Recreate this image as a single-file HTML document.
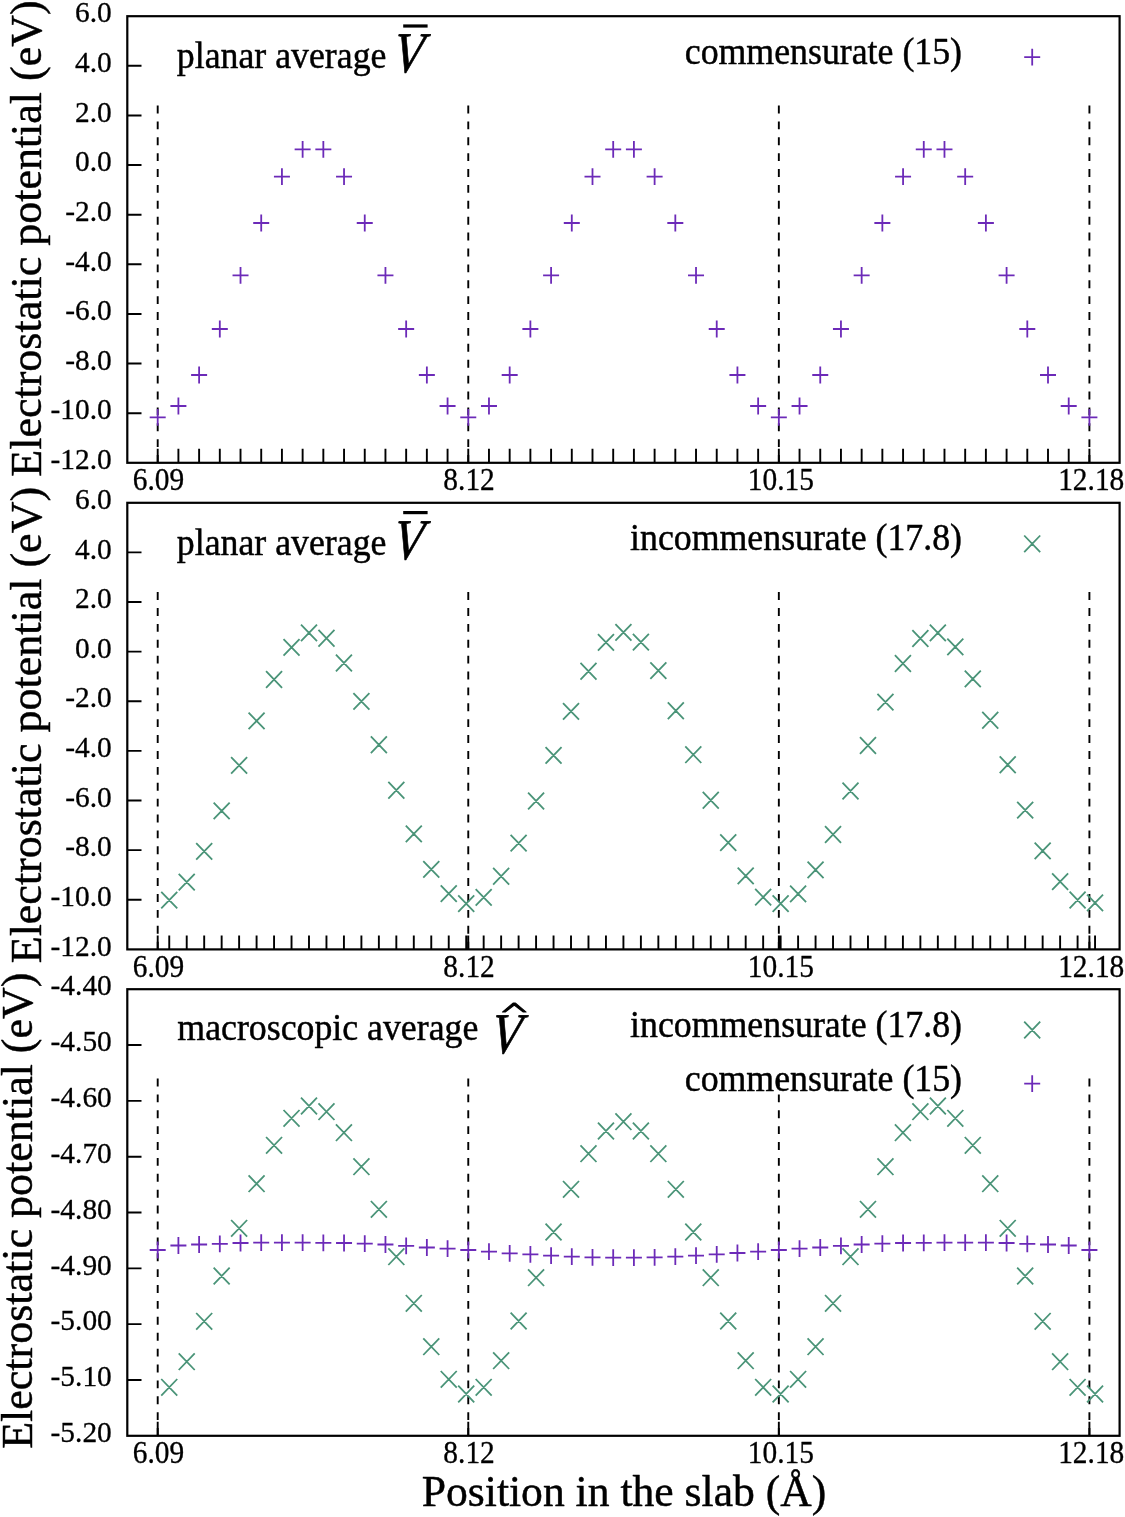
<!DOCTYPE html>
<html lang="en"><head><meta charset="utf-8"><title>Electrostatic potential</title>
<style>html,body{margin:0;padding:0;background:#fff}svg{display:block}text{fill:#000;font-family:'Liberation Serif','Times New Roman',Times,serif;stroke:#000;stroke-width:.45px;stroke-linejoin:round}</style></head><body>
<svg width="1125" height="1517" viewBox="0 0 1125 1517">
<rect width="1125" height="1517" fill="#fff"/>
<g>
<path d="M157.7 105.5V462.8M468.27 105.5V462.8M778.84 105.5V462.8M1089.41 105.5V462.8" stroke="#000" stroke-width="1.9" stroke-dasharray="7.9 7.99" fill="none"/>
<path d="M127.3 65.82h14.2M127.3 115.44h14.2M127.3 165.07h14.2M127.3 214.69h14.2M127.3 264.31h14.2M127.3 313.93h14.2M127.3 363.56h14.2M127.3 413.18h14.2M157.7 462.8v-14M178.4 462.8v-14M199.11 462.8v-14M219.81 462.8v-14M240.52 462.8v-14M261.22 462.8v-14M281.93 462.8v-14M302.63 462.8v-14M323.34 462.8v-14M344.04 462.8v-14M364.75 462.8v-14M385.45 462.8v-14M406.16 462.8v-14M426.86 462.8v-14M447.57 462.8v-14M468.27 462.8v-14M488.97 462.8v-14M509.68 462.8v-14M530.38 462.8v-14M551.09 462.8v-14M571.79 462.8v-14M592.5 462.8v-14M613.2 462.8v-14M633.91 462.8v-14M654.61 462.8v-14M675.32 462.8v-14M696.02 462.8v-14M716.73 462.8v-14M737.43 462.8v-14M758.14 462.8v-14M778.84 462.8v-14M799.54 462.8v-14M820.25 462.8v-14M840.95 462.8v-14M861.66 462.8v-14M882.36 462.8v-14M903.07 462.8v-14M923.77 462.8v-14M944.48 462.8v-14M965.18 462.8v-14M985.89 462.8v-14M1006.59 462.8v-14M1027.3 462.8v-14M1048 462.8v-14M1068.71 462.8v-14M1089.41 462.8v-14" stroke="#000" stroke-width="1.9" fill="none"/>
<rect x="127.3" y="16.2" width="992.3" height="446.6" fill="none" stroke="#000" stroke-width="2.2"/>
<text transform="translate(111.8 22.4) scale(1 1.035)" font-size="29.4" text-anchor="end" font-family="'Liberation Serif','Times New Roman',Times,serif" style="stroke-width:.3px">6.0</text>
<text transform="translate(111.8 72.02) scale(1 1.035)" font-size="29.4" text-anchor="end" font-family="'Liberation Serif','Times New Roman',Times,serif" style="stroke-width:.3px">4.0</text>
<text transform="translate(111.8 121.64) scale(1 1.035)" font-size="29.4" text-anchor="end" font-family="'Liberation Serif','Times New Roman',Times,serif" style="stroke-width:.3px">2.0</text>
<text transform="translate(111.8 171.27) scale(1 1.035)" font-size="29.4" text-anchor="end" font-family="'Liberation Serif','Times New Roman',Times,serif" style="stroke-width:.3px">0.0</text>
<text transform="translate(111.8 220.89) scale(1 1.035)" font-size="29.4" text-anchor="end" font-family="'Liberation Serif','Times New Roman',Times,serif" style="stroke-width:.3px">-2.0</text>
<text transform="translate(111.8 270.51) scale(1 1.035)" font-size="29.4" text-anchor="end" font-family="'Liberation Serif','Times New Roman',Times,serif" style="stroke-width:.3px">-4.0</text>
<text transform="translate(111.8 320.13) scale(1 1.035)" font-size="29.4" text-anchor="end" font-family="'Liberation Serif','Times New Roman',Times,serif" style="stroke-width:.3px">-6.0</text>
<text transform="translate(111.8 369.76) scale(1 1.035)" font-size="29.4" text-anchor="end" font-family="'Liberation Serif','Times New Roman',Times,serif" style="stroke-width:.3px">-8.0</text>
<text transform="translate(111.8 419.38) scale(1 1.035)" font-size="29.4" text-anchor="end" font-family="'Liberation Serif','Times New Roman',Times,serif" style="stroke-width:.3px">-10.0</text>
<text transform="translate(111.8 469) scale(1 1.035)" font-size="29.4" text-anchor="end" font-family="'Liberation Serif','Times New Roman',Times,serif" style="stroke-width:.3px">-12.0</text>
<text transform="translate(158.5 490) scale(1 1.06)" font-size="29.4" text-anchor="middle" font-family="'Liberation Serif','Times New Roman',Times,serif" style="stroke-width:.3px">6.09</text>
<text transform="translate(469.07 490) scale(1 1.06)" font-size="29.4" text-anchor="middle" font-family="'Liberation Serif','Times New Roman',Times,serif" style="stroke-width:.3px">8.12</text>
<text transform="translate(780.84 490) scale(1 1.06)" font-size="29.4" text-anchor="middle" font-family="'Liberation Serif','Times New Roman',Times,serif" style="stroke-width:.3px">10.15</text>
<text transform="translate(1091.21 490) scale(1 1.06)" font-size="29.4" text-anchor="middle" font-family="'Liberation Serif','Times New Roman',Times,serif" style="stroke-width:.3px">12.18</text>
<text transform="translate(41.2 238.5) rotate(-90) scale(1 0.995)" font-size="44.0" text-anchor="middle" font-family="'Liberation Serif','Times New Roman',Times,serif">Electrostatic potential (eV)</text>
<path d="M149.7 417.3h16M157.7 408.9v16.8M170.4 406h16M178.4 397.6v16.8M191.11 375h16M199.11 366.6v16.8M211.81 329h16M219.81 320.6v16.8M232.52 275.3h16M240.52 266.9v16.8M253.22 223h16M261.22 214.6v16.8M273.93 176.7h16M281.93 168.3v16.8M294.63 149.3h16M302.63 140.9v16.8M315.34 149.3h16M323.34 140.9v16.8M336.04 176.7h16M344.04 168.3v16.8M356.75 223h16M364.75 214.6v16.8M377.45 275.3h16M385.45 266.9v16.8M398.16 329h16M406.16 320.6v16.8M418.86 375h16M426.86 366.6v16.8M439.57 406h16M447.57 397.6v16.8M460.27 417.3h16M468.27 408.9v16.8M480.97 406h16M488.97 397.6v16.8M501.68 375h16M509.68 366.6v16.8M522.38 329h16M530.38 320.6v16.8M543.09 275.3h16M551.09 266.9v16.8M563.79 223h16M571.79 214.6v16.8M584.5 176.7h16M592.5 168.3v16.8M605.2 149.3h16M613.2 140.9v16.8M625.91 149.3h16M633.91 140.9v16.8M646.61 176.7h16M654.61 168.3v16.8M667.32 223h16M675.32 214.6v16.8M688.02 275.3h16M696.02 266.9v16.8M708.73 329h16M716.73 320.6v16.8M729.43 375h16M737.43 366.6v16.8M750.14 406h16M758.14 397.6v16.8M770.84 417.3h16M778.84 408.9v16.8M791.54 406h16M799.54 397.6v16.8M812.25 375h16M820.25 366.6v16.8M832.95 329h16M840.95 320.6v16.8M853.66 275.3h16M861.66 266.9v16.8M874.36 223h16M882.36 214.6v16.8M895.07 176.7h16M903.07 168.3v16.8M915.77 149.3h16M923.77 140.9v16.8M936.48 149.3h16M944.48 140.9v16.8M957.18 176.7h16M965.18 168.3v16.8M977.89 223h16M985.89 214.6v16.8M998.59 275.3h16M1006.59 266.9v16.8M1019.3 329h16M1027.3 320.6v16.8M1040 375h16M1048 366.6v16.8M1060.71 406h16M1068.71 397.6v16.8M1081.41 417.3h16M1089.41 408.9v16.8M1024.2 57.2h16M1032.2 48.8v16.8" stroke="#6c2ab8" stroke-width="1.8" fill="none"/>
<text transform="translate(962 63.8) scale(1 1.03)" font-size="35.8" text-anchor="end" font-family="'Liberation Serif','Times New Roman',Times,serif">commensurate (15)</text>
<text transform="translate(176.8 68) scale(1 1.03)" font-size="35.8" text-anchor="start" font-family="'Liberation Serif','Times New Roman',Times,serif">planar average</text>
<text transform="translate(392.2 72.2) scale(0.85 1) skewX(-7)" font-size="57.5" style="stroke-width:.7px" font-style="italic" font-family="'Liberation Serif','Times New Roman',Times,serif">V</text>
<rect x="403.2" y="24.4" width="24.4" height="3.2" fill="#000"/>
</g>
<g>
<path d="M157.7 592.1V949.4M468.27 592.1V949.4M778.84 592.1V949.4M1089.41 592.1V949.4" stroke="#000" stroke-width="1.9" stroke-dasharray="7.9 7.99" fill="none"/>
<path d="M127.3 552.42h14.2M127.3 602.04h14.2M127.3 651.67h14.2M127.3 701.29h14.2M127.3 750.91h14.2M127.3 800.53h14.2M127.3 850.16h14.2M127.3 899.78h14.2M169.25 949.4v-14M186.72 949.4v-14M204.19 949.4v-14M221.65 949.4v-14M239.12 949.4v-14M256.59 949.4v-14M274.06 949.4v-14M291.53 949.4v-14M308.99 949.4v-14M326.46 949.4v-14M343.93 949.4v-14M361.4 949.4v-14M378.87 949.4v-14M396.33 949.4v-14M413.8 949.4v-14M431.27 949.4v-14M448.74 949.4v-14M466.21 949.4v-14M483.67 949.4v-14M501.14 949.4v-14M518.61 949.4v-14M536.08 949.4v-14M553.55 949.4v-14M571.01 949.4v-14M588.48 949.4v-14M605.95 949.4v-14M623.42 949.4v-14M640.89 949.4v-14M658.35 949.4v-14M675.82 949.4v-14M693.29 949.4v-14M710.76 949.4v-14M728.23 949.4v-14M745.69 949.4v-14M763.16 949.4v-14M780.63 949.4v-14M798.1 949.4v-14M815.57 949.4v-14M833.03 949.4v-14M850.5 949.4v-14M867.97 949.4v-14M885.44 949.4v-14M902.91 949.4v-14M920.37 949.4v-14M937.84 949.4v-14M955.31 949.4v-14M972.78 949.4v-14M990.25 949.4v-14M1007.71 949.4v-14M1025.18 949.4v-14M1042.65 949.4v-14M1060.12 949.4v-14M1077.59 949.4v-14M1095.05 949.4v-14M157.7 949.4v-14M468.27 949.4v-14M778.84 949.4v-14M1089.41 949.4v-14" stroke="#000" stroke-width="1.9" fill="none"/>
<rect x="127.3" y="502.8" width="992.3" height="446.6" fill="none" stroke="#000" stroke-width="2.2"/>
<text transform="translate(111.8 509) scale(1 1.035)" font-size="29.4" text-anchor="end" font-family="'Liberation Serif','Times New Roman',Times,serif" style="stroke-width:.3px">6.0</text>
<text transform="translate(111.8 558.62) scale(1 1.035)" font-size="29.4" text-anchor="end" font-family="'Liberation Serif','Times New Roman',Times,serif" style="stroke-width:.3px">4.0</text>
<text transform="translate(111.8 608.24) scale(1 1.035)" font-size="29.4" text-anchor="end" font-family="'Liberation Serif','Times New Roman',Times,serif" style="stroke-width:.3px">2.0</text>
<text transform="translate(111.8 657.87) scale(1 1.035)" font-size="29.4" text-anchor="end" font-family="'Liberation Serif','Times New Roman',Times,serif" style="stroke-width:.3px">0.0</text>
<text transform="translate(111.8 707.49) scale(1 1.035)" font-size="29.4" text-anchor="end" font-family="'Liberation Serif','Times New Roman',Times,serif" style="stroke-width:.3px">-2.0</text>
<text transform="translate(111.8 757.11) scale(1 1.035)" font-size="29.4" text-anchor="end" font-family="'Liberation Serif','Times New Roman',Times,serif" style="stroke-width:.3px">-4.0</text>
<text transform="translate(111.8 806.73) scale(1 1.035)" font-size="29.4" text-anchor="end" font-family="'Liberation Serif','Times New Roman',Times,serif" style="stroke-width:.3px">-6.0</text>
<text transform="translate(111.8 856.36) scale(1 1.035)" font-size="29.4" text-anchor="end" font-family="'Liberation Serif','Times New Roman',Times,serif" style="stroke-width:.3px">-8.0</text>
<text transform="translate(111.8 905.98) scale(1 1.035)" font-size="29.4" text-anchor="end" font-family="'Liberation Serif','Times New Roman',Times,serif" style="stroke-width:.3px">-10.0</text>
<text transform="translate(111.8 955.6) scale(1 1.035)" font-size="29.4" text-anchor="end" font-family="'Liberation Serif','Times New Roman',Times,serif" style="stroke-width:.3px">-12.0</text>
<text transform="translate(158.5 976.6) scale(1 1.06)" font-size="29.4" text-anchor="middle" font-family="'Liberation Serif','Times New Roman',Times,serif" style="stroke-width:.3px">6.09</text>
<text transform="translate(469.07 976.6) scale(1 1.06)" font-size="29.4" text-anchor="middle" font-family="'Liberation Serif','Times New Roman',Times,serif" style="stroke-width:.3px">8.12</text>
<text transform="translate(780.84 976.6) scale(1 1.06)" font-size="29.4" text-anchor="middle" font-family="'Liberation Serif','Times New Roman',Times,serif" style="stroke-width:.3px">10.15</text>
<text transform="translate(1091.21 976.6) scale(1 1.06)" font-size="29.4" text-anchor="middle" font-family="'Liberation Serif','Times New Roman',Times,serif" style="stroke-width:.3px">12.18</text>
<text transform="translate(41.2 725.1) rotate(-90) scale(1 0.995)" font-size="44.0" text-anchor="middle" font-family="'Liberation Serif','Times New Roman',Times,serif">Electrostatic potential (eV)</text>
<path d="M161.25 891.84l16 16.6M161.25 908.44l16 -16.6M178.72 873.76l16 16.6M178.72 890.36l16 -16.6M196.19 843.08l16 16.6M196.19 859.68l16 -16.6M213.65 802.54l16 16.6M213.65 819.14l16 -16.6M231.12 757.12l16 16.6M231.12 773.72l16 -16.6M248.59 712.6l16 16.6M248.59 729.2l16 -16.6M266.06 671.18l16 16.6M266.06 687.78l16 -16.6M283.53 639.02l16 16.6M283.53 655.62l16 -16.6M300.99 624.58l16 16.6M300.99 641.18l16 -16.6M318.46 629.96l16 16.6M318.46 646.56l16 -16.6M335.93 654.71l16 16.6M335.93 671.31l16 -16.6M353.4 693.11l16 16.6M353.4 709.71l16 -16.6M370.87 736.49l16 16.6M370.87 753.09l16 -16.6M388.33 781.97l16 16.6M388.33 798.57l16 -16.6M405.8 825.57l16 16.6M405.8 842.17l16 -16.6M423.27 861.14l16 16.6M423.27 877.74l16 -16.6M440.74 885.34l16 16.6M440.74 901.94l16 -16.6M458.21 895.3l16 16.6M458.21 911.9l16 -16.6M475.67 889.09l16 16.6M475.67 905.69l16 -16.6M493.14 867.98l16 16.6M493.14 884.58l16 -16.6M510.61 834.87l16 16.6M510.61 851.47l16 -16.6M528.08 792.7l16 16.6M528.08 809.3l16 -16.6M545.55 747.11l16 16.6M545.55 763.71l16 -16.6M563.01 703.11l16 16.6M563.01 719.71l16 -16.6M580.48 662.93l16 16.6M580.48 679.53l16 -16.6M597.95 634.14l16 16.6M597.95 650.74l16 -16.6M615.42 624.07l16 16.6M615.42 640.67l16 -16.6M632.89 633.83l16 16.6M632.89 650.43l16 -16.6M650.35 662.36l16 16.6M650.35 678.96l16 -16.6M667.82 702.44l16 16.6M667.82 719.04l16 -16.6M685.29 746.4l16 16.6M685.29 763l16 -16.6M702.76 791.99l16 16.6M702.76 808.59l16 -16.6M720.23 834.27l16 16.6M720.23 850.87l16 -16.6M737.69 867.55l16 16.6M737.69 884.15l16 -16.6M755.16 888.87l16 16.6M755.16 905.47l16 -16.6M772.63 895.33l16 16.6M772.63 911.93l16 -16.6M790.1 885.61l16 16.6M790.1 902.21l16 -16.6M807.57 861.61l16 16.6M807.57 878.21l16 -16.6M825.03 826.2l16 16.6M825.03 842.8l16 -16.6M842.5 782.69l16 16.6M842.5 799.29l16 -16.6M859.97 737.19l16 16.6M859.97 753.79l16 -16.6M877.44 693.77l16 16.6M877.44 710.37l16 -16.6M894.91 655.24l16 16.6M894.91 671.84l16 -16.6M912.37 630.21l16 16.6M912.37 646.81l16 -16.6M929.84 624.51l16 16.6M929.84 641.11l16 -16.6M947.31 638.64l16 16.6M947.31 655.24l16 -16.6M964.78 670.58l16 16.6M964.78 687.18l16 -16.6M982.25 711.92l16 16.6M982.25 728.52l16 -16.6M999.71 756.41l16 16.6M999.71 773.01l16 -16.6M1017.18 801.85l16 16.6M1017.18 818.45l16 -16.6M1034.65 842.51l16 16.6M1034.65 859.11l16 -16.6M1052.12 873.37l16 16.6M1052.12 889.97l16 -16.6M1069.59 891.67l16 16.6M1069.59 908.27l16 -16.6M1087.05 894.56l16 16.6M1087.05 911.16l16 -16.6M1024.2 535.5l16 16.6M1024.2 552.1l16 -16.6" stroke="#4a9478" stroke-width="1.8" fill="none"/>
<text transform="translate(962 550.4) scale(1 1.03)" font-size="35.8" text-anchor="end" font-family="'Liberation Serif','Times New Roman',Times,serif">incommensurate (17.8)</text>
<text transform="translate(176.8 554.6) scale(1 1.03)" font-size="35.8" text-anchor="start" font-family="'Liberation Serif','Times New Roman',Times,serif">planar average</text>
<text transform="translate(392.2 558.8) scale(0.85 1) skewX(-7)" font-size="57.5" style="stroke-width:.7px" font-style="italic" font-family="'Liberation Serif','Times New Roman',Times,serif">V</text>
<rect x="403.2" y="511" width="24.4" height="3.2" fill="#000"/>
</g>
<g>
<path d="M157.7 1078.5V1435.8M468.27 1078.5V1435.8M778.84 1078.5V1435.8M1089.41 1078.5V1435.8" stroke="#000" stroke-width="1.9" stroke-dasharray="7.9 7.99" fill="none"/>
<path d="M127.3 1045.03h14.2M127.3 1100.85h14.2M127.3 1156.68h14.2M127.3 1212.5h14.2M127.3 1268.33h14.2M127.3 1324.15h14.2M127.3 1379.98h14.2M157.7 1435.8v-14M468.27 1435.8v-14M778.84 1435.8v-14M1089.41 1435.8v-14" stroke="#000" stroke-width="1.9" fill="none"/>
<rect x="127.3" y="989.2" width="992.3" height="446.6" fill="none" stroke="#000" stroke-width="2.2"/>
<text transform="translate(111.8 995.4) scale(1 1.035)" font-size="29.4" text-anchor="end" font-family="'Liberation Serif','Times New Roman',Times,serif" style="stroke-width:.3px">-4.40</text>
<text transform="translate(111.8 1051.23) scale(1 1.035)" font-size="29.4" text-anchor="end" font-family="'Liberation Serif','Times New Roman',Times,serif" style="stroke-width:.3px">-4.50</text>
<text transform="translate(111.8 1107.05) scale(1 1.035)" font-size="29.4" text-anchor="end" font-family="'Liberation Serif','Times New Roman',Times,serif" style="stroke-width:.3px">-4.60</text>
<text transform="translate(111.8 1162.88) scale(1 1.035)" font-size="29.4" text-anchor="end" font-family="'Liberation Serif','Times New Roman',Times,serif" style="stroke-width:.3px">-4.70</text>
<text transform="translate(111.8 1218.7) scale(1 1.035)" font-size="29.4" text-anchor="end" font-family="'Liberation Serif','Times New Roman',Times,serif" style="stroke-width:.3px">-4.80</text>
<text transform="translate(111.8 1274.53) scale(1 1.035)" font-size="29.4" text-anchor="end" font-family="'Liberation Serif','Times New Roman',Times,serif" style="stroke-width:.3px">-4.90</text>
<text transform="translate(111.8 1330.35) scale(1 1.035)" font-size="29.4" text-anchor="end" font-family="'Liberation Serif','Times New Roman',Times,serif" style="stroke-width:.3px">-5.00</text>
<text transform="translate(111.8 1386.18) scale(1 1.035)" font-size="29.4" text-anchor="end" font-family="'Liberation Serif','Times New Roman',Times,serif" style="stroke-width:.3px">-5.10</text>
<text transform="translate(111.8 1442) scale(1 1.035)" font-size="29.4" text-anchor="end" font-family="'Liberation Serif','Times New Roman',Times,serif" style="stroke-width:.3px">-5.20</text>
<text transform="translate(158.5 1463) scale(1 1.06)" font-size="29.4" text-anchor="middle" font-family="'Liberation Serif','Times New Roman',Times,serif" style="stroke-width:.3px">6.09</text>
<text transform="translate(469.07 1463) scale(1 1.06)" font-size="29.4" text-anchor="middle" font-family="'Liberation Serif','Times New Roman',Times,serif" style="stroke-width:.3px">8.12</text>
<text transform="translate(780.84 1463) scale(1 1.06)" font-size="29.4" text-anchor="middle" font-family="'Liberation Serif','Times New Roman',Times,serif" style="stroke-width:.3px">10.15</text>
<text transform="translate(1091.21 1463) scale(1 1.06)" font-size="29.4" text-anchor="middle" font-family="'Liberation Serif','Times New Roman',Times,serif" style="stroke-width:.3px">12.18</text>
<text transform="translate(32.2 1210.7) rotate(-90) scale(1 0.995)" font-size="44.0" text-anchor="middle" font-family="'Liberation Serif','Times New Roman',Times,serif">Electrostatic potential (eV)</text>
<path d="M161.25 1379l16 16.6M161.25 1395.6l16 -16.6M178.72 1353.4l16 16.6M178.72 1370l16 -16.6M196.19 1313l16 16.6M196.19 1329.6l16 -16.6M213.65 1267.7l16 16.6M213.65 1284.3l16 -16.6M231.12 1220l16 16.6M231.12 1236.6l16 -16.6M248.59 1175.4l16 16.6M248.59 1192l16 -16.6M266.06 1137l16 16.6M266.06 1153.6l16 -16.6M283.53 1110l16 16.6M283.53 1126.6l16 -16.6M300.99 1097.7l16 16.6M300.99 1114.3l16 -16.6M318.46 1103.4l16 16.6M318.46 1120l16 -16.6M335.93 1124.4l16 16.6M335.93 1141l16 -16.6M353.4 1158.4l16 16.6M353.4 1175l16 -16.6M370.87 1201l16 16.6M370.87 1217.6l16 -16.6M388.33 1248.4l16 16.6M388.33 1265l16 -16.6M405.8 1295l16 16.6M405.8 1311.6l16 -16.6M423.27 1338.4l16 16.6M423.27 1355l16 -16.6M440.74 1371l16 16.6M440.74 1387.6l16 -16.6M458.21 1385.7l16 16.6M458.21 1402.3l16 -16.6M475.67 1379l16 16.6M475.67 1395.6l16 -16.6M493.14 1352.4l16 16.6M493.14 1369l16 -16.6M510.61 1312.7l16 16.6M510.61 1329.3l16 -16.6M528.08 1269.4l16 16.6M528.08 1286l16 -16.6M545.55 1223.7l16 16.6M545.55 1240.3l16 -16.6M563.01 1181l16 16.6M563.01 1197.6l16 -16.6M580.48 1145.4l16 16.6M580.48 1162l16 -16.6M597.95 1122.7l16 16.6M597.95 1139.3l16 -16.6M615.42 1113.4l16 16.6M615.42 1130l16 -16.6M632.89 1122.7l16 16.6M632.89 1139.3l16 -16.6M650.35 1145.4l16 16.6M650.35 1162l16 -16.6M667.82 1181l16 16.6M667.82 1197.6l16 -16.6M685.29 1223.7l16 16.6M685.29 1240.3l16 -16.6M702.76 1269.4l16 16.6M702.76 1286l16 -16.6M720.23 1312.7l16 16.6M720.23 1329.3l16 -16.6M737.69 1352.4l16 16.6M737.69 1369l16 -16.6M755.16 1379l16 16.6M755.16 1395.6l16 -16.6M772.63 1385.7l16 16.6M772.63 1402.3l16 -16.6M790.1 1371l16 16.6M790.1 1387.6l16 -16.6M807.57 1338.4l16 16.6M807.57 1355l16 -16.6M825.03 1295l16 16.6M825.03 1311.6l16 -16.6M842.5 1248.4l16 16.6M842.5 1265l16 -16.6M859.97 1201l16 16.6M859.97 1217.6l16 -16.6M877.44 1158.4l16 16.6M877.44 1175l16 -16.6M894.91 1124.4l16 16.6M894.91 1141l16 -16.6M912.37 1103.4l16 16.6M912.37 1120l16 -16.6M929.84 1097.7l16 16.6M929.84 1114.3l16 -16.6M947.31 1110l16 16.6M947.31 1126.6l16 -16.6M964.78 1137l16 16.6M964.78 1153.6l16 -16.6M982.25 1175.4l16 16.6M982.25 1192l16 -16.6M999.71 1220l16 16.6M999.71 1236.6l16 -16.6M1017.18 1267.7l16 16.6M1017.18 1284.3l16 -16.6M1034.65 1313l16 16.6M1034.65 1329.6l16 -16.6M1052.12 1353.4l16 16.6M1052.12 1370l16 -16.6M1069.59 1379l16 16.6M1069.59 1395.6l16 -16.6M1087.05 1385.7l16 16.6M1087.05 1402.3l16 -16.6M1024.2 1021.7l16 16.6M1024.2 1038.3l16 -16.6" stroke="#4a9478" stroke-width="1.8" fill="none"/>
<path d="M149.7 1250h16M157.7 1241.6v16.8M170.4 1245.5h16M178.4 1237.1v16.8M191.11 1244.5h16M199.11 1236.1v16.8M211.81 1243.83h16M219.81 1235.43v16.8M232.52 1243h16M240.52 1234.6v16.8M253.22 1242.67h16M261.22 1234.27v16.8M273.93 1242.67h16M281.93 1234.27v16.8M294.63 1242.67h16M302.63 1234.27v16.8M315.34 1242.83h16M323.34 1234.43v16.8M336.04 1243h16M344.04 1234.6v16.8M356.75 1243.67h16M364.75 1235.27v16.8M377.45 1244.5h16M385.45 1236.1v16.8M398.16 1245.83h16M406.16 1237.43v16.8M418.86 1247.5h16M426.86 1239.1v16.8M439.57 1248.67h16M447.57 1240.27v16.8M460.27 1250h16M468.27 1241.6v16.8M480.97 1251.67h16M488.97 1243.27v16.8M501.68 1253.33h16M509.68 1244.93v16.8M522.38 1254.33h16M530.38 1245.93v16.8M543.09 1255.67h16M551.09 1247.27v16.8M563.79 1256.67h16M571.79 1248.27v16.8M584.5 1257.33h16M592.5 1248.93v16.8M605.2 1257.67h16M613.2 1249.27v16.8M625.91 1257.67h16M633.91 1249.27v16.8M646.61 1257.33h16M654.61 1248.93v16.8M667.32 1256.67h16M675.32 1248.27v16.8M688.02 1255.67h16M696.02 1247.27v16.8M708.73 1254.33h16M716.73 1245.93v16.8M729.43 1253h16M737.43 1244.6v16.8M750.14 1251.67h16M758.14 1243.27v16.8M770.84 1250h16M778.84 1241.6v16.8M791.54 1248.67h16M799.54 1240.27v16.8M812.25 1247.5h16M820.25 1239.1v16.8M832.95 1245.83h16M840.95 1237.43v16.8M853.66 1244.5h16M861.66 1236.1v16.8M874.36 1243.67h16M882.36 1235.27v16.8M895.07 1243h16M903.07 1234.6v16.8M915.77 1242.83h16M923.77 1234.43v16.8M936.48 1242.67h16M944.48 1234.27v16.8M957.18 1242.67h16M965.18 1234.27v16.8M977.89 1242.67h16M985.89 1234.27v16.8M998.59 1243h16M1006.59 1234.6v16.8M1019.3 1243.83h16M1027.3 1235.43v16.8M1040 1244.5h16M1048 1236.1v16.8M1060.71 1245.5h16M1068.71 1237.1v16.8M1081.41 1250h16M1089.41 1241.6v16.8M1024.2 1083.7h16M1032.2 1075.3v16.8" stroke="#6c2ab8" stroke-width="1.8" fill="none"/>
<text transform="translate(962 1036.8) scale(1 1.03)" font-size="35.8" text-anchor="end" font-family="'Liberation Serif','Times New Roman',Times,serif">incommensurate (17.8)</text>
<text transform="translate(962 1090.8) scale(1 1.03)" font-size="35.8" text-anchor="end" font-family="'Liberation Serif','Times New Roman',Times,serif">commensurate (15)</text>
<text transform="translate(177.3 1040) scale(1 1.03)" font-size="35.8" text-anchor="start" font-family="'Liberation Serif','Times New Roman',Times,serif">macroscopic average</text>
<text transform="translate(490.0 1053.4) scale(0.85 1) skewX(-7)" font-size="57.5" style="stroke-width:.7px" font-style="italic" font-family="'Liberation Serif','Times New Roman',Times,serif">V</text>
<text transform="translate(497.5 1026.6) scale(1 0.8)" font-size="40" font-weight="200" style="stroke-width:1.3px;font-family:'DejaVu Sans Light','DejaVu Sans',sans-serif">^</text>
</g>
<text transform="translate(624 1506) scale(1 1.0)" font-size="43.6" text-anchor="middle" font-family="'Liberation Serif','Times New Roman',Times,serif">Position in the slab (Å)</text>
</svg></body></html>
